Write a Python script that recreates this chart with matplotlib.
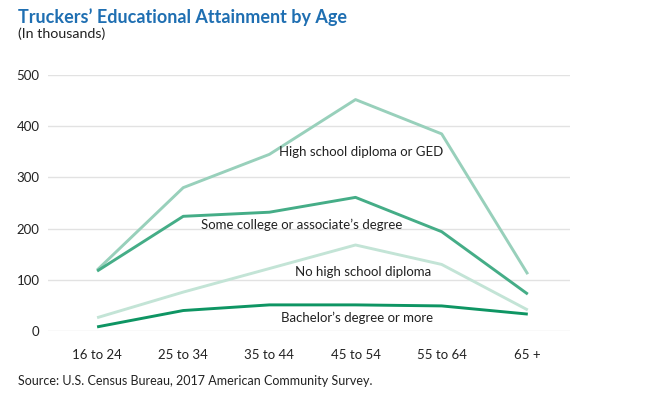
import matplotlib
matplotlib.use("Agg")
import matplotlib.pyplot as plt

categories = ["16 to 24", "25 to 34", "35 to 44", "45 to 54", "55 to 64", "65 +"]
high_school = [119, 280, 345, 452, 385, 111]
some_college = [117, 224, 232, 261, 194, 72]
no_high_school = [26, 76, 122, 168, 130, 41]
bachelor = [8, 40, 51, 51, 49, 33]

series = [
    ("High school diploma or GED", high_school, "#98d0bb", (3.07, 349)),
    ("Some college or associate’s degree", some_college, "#45ad87", (2.38, 208)),
    ("No high school diploma", no_high_school, "#c3e4d6", (3.09, 115)),
    ("Bachelor’s degree or more", bachelor, "#0e9563", (3.02, 25)),
]

plt.rcParams['font.family'] = ['Lato', 'DejaVu Sans']
fig = plt.figure(figsize=(6.67, 3.93), dpi=100)
ax = fig.add_axes([48/667, 1-331/393, (570-48)/667, (331-75)/393])

x = list(range(len(categories)))
for name, vals, color, (lx, ly) in series:
    ax.plot(x, vals, color=color, lw=2.1, solid_capstyle='butt', zorder=3, clip_on=False)
    ax.text(lx, ly, name, ha='center', va='center', fontsize=9.5, color='#222222', zorder=4)

ax.set_xlim(-0.57, 5.49)
ax.set_ylim(0, 500)
ax.set_yticks([0, 100, 200, 300, 400, 500])
ax.set_xticks(x)
ax.set_xticklabels(categories)
ax.tick_params(axis='both', length=0, labelsize=9.5, colors='#222222')
ax.tick_params(axis='y', pad=6)
ax.tick_params(axis='x', pad=13)
ax.grid(axis='y', color='#e2e2e2', lw=1)
ax.set_axisbelow(True)
for s in ax.spines.values():
    s.set_visible(False)

fig.text(18/667, 1-17/393, "Truckers’ Educational Attainment by Age", fontsize=13,
         fontweight='bold', color='#1f6fb2', ha='left', va='center')
fig.text(18/667, 1-34/393, "(In thousands)", fontsize=10.3, color='#222222', ha='left', va='center')
fig.text(18/667, 1-381/393, "Source: U.S. Census Bureau, 2017 American Community Survey.",
         fontsize=9, color='#222222', ha='left', va='center')

fig.savefig("out.png", dpi=100)
